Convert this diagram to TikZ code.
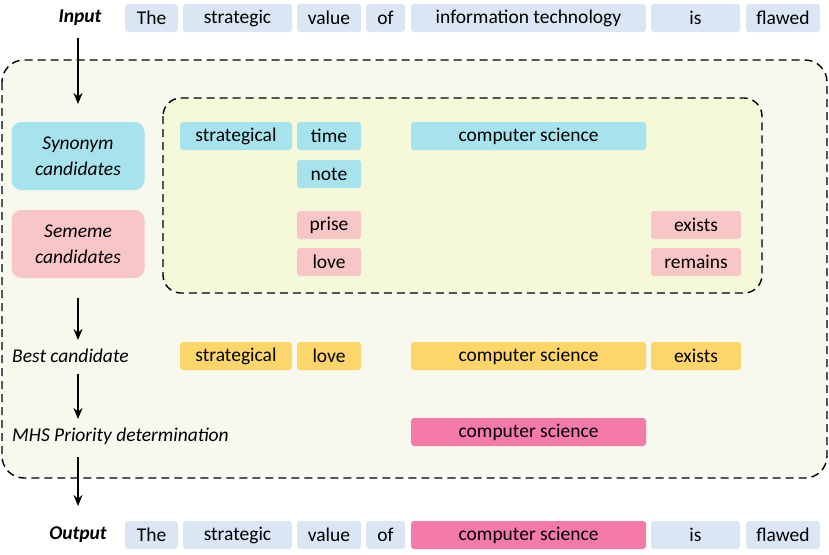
\documentclass[tikz,border=0pt]{standalone}
\usepackage{fontspec}
\setmainfont{Carlito}
\usetikzlibrary{arrows.meta}
\definecolor{inbl}{HTML}{DAE6F3}
\definecolor{cyanb}{HTML}{A6E3EC}
\definecolor{pinkb}{HTML}{F8C6C6}
\definecolor{gold}{HTML}{FDD66B}
\definecolor{hot}{HTML}{F47BA7}
\definecolor{outerf}{HTML}{F7F9EE}
\definecolor{innerf}{HTML}{F6F8DA}
\tikzset{tok/.style={rounded corners=3pt,inner sep=0pt,minimum height=28pt,font=\fontsize{19.5}{22}\selectfont},
 lab/.style={font=\fontsize{19.5}{22}\selectfont\itshape,inner sep=0pt},
 dbox/.style={dash pattern=on 8pt off 5pt,line width=1.4pt},
 arr/.style={-{Stealth[length=11pt,width=9pt]},line width=2pt}}
\newcommand{\bx}[6]{\node[tok,fill=#5,minimum width=#3pt-#2pt] (#1) at ({(#2+#3)/2},#4) {#6};}
\begin{document}
\begin{tikzpicture}[x=1pt,y=-1pt]
\useasboundingbox (0,0) rectangle (829,554);
\draw[dbox,rounded corners=22pt,fill=outerf] (2,60) rectangle (827,478);
\draw[dbox,rounded corners=18pt,fill=innerf] (163,98) rectangle (762,293);
% input row
\node[lab,font=\fontsize{19.5}{22}\selectfont\bfseries\itshape] (in) at (80,18) {Input};
\bx{i1}{125}{178}{18}{inbl}{The}
\bx{i2}{183}{292}{18}{inbl}{strategic}
\bx{i3}{297}{361}{18}{inbl}{value}
\bx{i4}{366}{405}{18}{inbl}{of}
\bx{i5}{411}{646}{18}{inbl}{information technology}
\bx{i6}{651}{740}{18}{inbl}{is}
\bx{i7}{746}{820}{18}{inbl}{flawed}
% candidates
\node[tok,fill=cyanb,rounded corners=10pt,minimum width=133pt,minimum height=68pt,align=center,font=\fontsize{19.5}{26}\selectfont\itshape] (syn) at (78,156) {Synonym\\candidates};
\node[tok,fill=pinkb,rounded corners=10pt,minimum width=133pt,minimum height=68pt,align=center,font=\fontsize{19.5}{26}\selectfont\itshape] (sem) at (78,244) {Sememe\\candidates};
\bx{c1}{180}{292}{136}{cyanb}{strategical}
\bx{c2}{297}{361}{136}{cyanb}{time}
\bx{c3}{297}{361}{174}{cyanb}{note}
\bx{c4}{411}{646}{136}{cyanb}{computer science}
\bx{s1}{297}{361}{225}{pinkb}{prise}
\bx{s2}{297}{361}{262}{pinkb}{love}
\bx{s3}{651}{741}{225}{pinkb}{exists}
\bx{s4}{651}{741}{262}{pinkb}{remains}
% best
\node[lab,anchor=west] (best) at (12,356) {Best candidate};
\bx{b1}{180}{292}{356}{gold}{strategical}
\bx{b2}{297}{361}{356}{gold}{love}
\bx{b3}{411}{646}{356}{gold}{computer science}
\bx{b4}{651}{741}{356}{gold}{exists}
\node[lab,anchor=west] (mhs) at (12,436) {MHS Priority determination};
\bx{m1}{411}{646}{432}{hot}{computer science}
% output
\node[lab,font=\fontsize{19.5}{22}\selectfont\bfseries\itshape] (out) at (78,535) {Output};
\bx{o1}{125}{178}{535}{inbl}{The}
\bx{o2}{183}{292}{535}{inbl}{strategic}
\bx{o3}{297}{361}{535}{inbl}{value}
\bx{o4}{366}{405}{535}{inbl}{of}
\bx{o5}{411}{646}{535}{hot}{computer science}
\bx{o6}{651}{740}{535}{inbl}{is}
\bx{o7}{746}{820}{535}{inbl}{flawed}
% arrows
\coordinate (p1) at (78,38); \coordinate (p2) at (78,104);
\coordinate (p3) at (78,298); \coordinate (p4) at (78,340);
\coordinate (p5) at (78,374); \coordinate (p6) at (78,419);
\coordinate (p7) at (78,457); \coordinate (p8) at (78,506);
\draw[arr] (p1) -- (p2);
\draw[arr] (p3) -- (p4);
\draw[arr] (p5) -- (p6);
\draw[arr] (p7) -- (p8);
\end{tikzpicture}
\end{document}
